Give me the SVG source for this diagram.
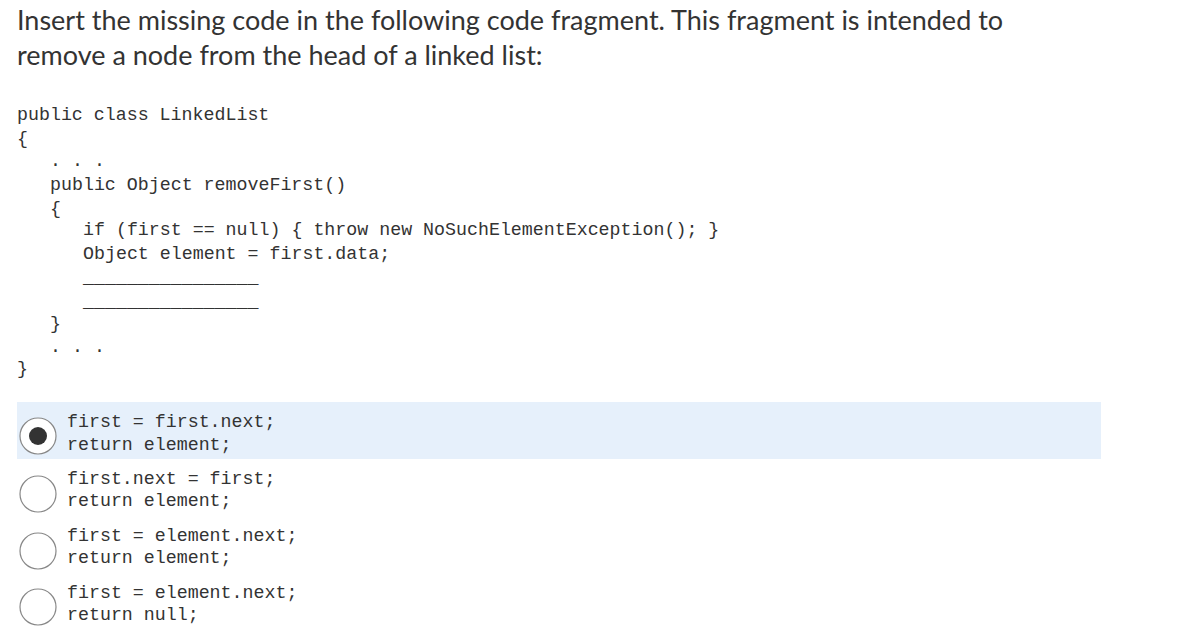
<svg xmlns="http://www.w3.org/2000/svg" width="1196" height="634" viewBox="0 0 1196 634">
<style>
.t{font-family:Lato,"Open Sans",sans-serif;font-size:27px;fill:#333}
.c{font-family:"Liberation Mono","DejaVu Sans Mono",monospace;font-size:18.3px;fill:#333;white-space:pre}
.r{fill:#fff;stroke:#888;stroke-width:1.2}
</style>
<rect width="1196" height="634" fill="#fff"/>
<text class="t" x="17" y="30">Insert the missing code in the following code fragment. This fragment is intended to</text>
<text class="t" x="17" y="65">remove a node from the head of a linked list:</text>
<g class="c">
<text x="17" y="120">public class LinkedList</text>
<text x="17" y="144">{</text>
<text x="50" y="166">. . .</text>
<text x="50" y="190">public Object removeFirst()</text>
<text x="50" y="214">{</text>
<text x="83" y="235">if (first == null) { throw new NoSuchElementException(); }</text>
<text x="83" y="259">Object element = first.data;</text>
<text x="83" y="283">________________</text>
<text x="83" y="307">________________</text>
<text x="50" y="329">}</text>
<text x="50" y="352">. . .</text>
<text x="17" y="374">}</text>
</g>
<rect x="17" y="402" width="1084" height="57" fill="#e6f0fb"/>
<g id="opt1"><circle class="r" cx="38" cy="436" r="18"/><circle cx="38" cy="436" r="9" fill="#333"/>
<text class="c" x="67" y="427">first = first.next;</text><text class="c" x="67" y="450">return element;</text></g>
<g id="opt2"><circle class="r" cx="38" cy="494" r="18"/>
<text class="c" x="67" y="484">first.next = first;</text><text class="c" x="67" y="506">return element;</text></g>
<g id="opt3"><circle class="r" cx="38" cy="551" r="18"/>
<text class="c" x="67" y="541">first = element.next;</text><text class="c" x="67" y="563">return element;</text></g>
<g id="opt4"><circle class="r" cx="38" cy="607" r="18"/>
<text class="c" x="67" y="598">first = element.next;</text><text class="c" x="67" y="620">return null;</text></g>
</svg>
